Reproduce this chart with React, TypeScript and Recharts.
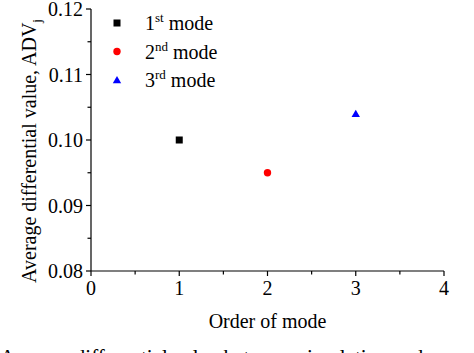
import React from "react";
import { ScatterChart, Scatter, XAxis, YAxis } from "recharts";

const FONT = "Liberation Serif";

const mode1 = [{ x: 1, y: 0.1 }];
const mode2 = [{ x: 2, y: 0.095 }];
const mode3 = [{ x: 3, y: 0.104 }];

const xTicks = [0, 0.5, 1, 1.5, 2, 2.5, 3, 3.5, 4];
const yTicks = [0.08, 0.085, 0.09, 0.095, 0.1, 0.105, 0.11, 0.115, 0.12];

const legendItems = [
  { num: "1", sup: "st", color: "#000000", shape: "square" },
  { num: "2", sup: "nd", color: "#ff0000", shape: "circle" },
  { num: "3", sup: "rd", color: "#0000ff", shape: "triangle" },
];

const TICK_MARGIN_X = 10;
const TICK_MARGIN_Y = 8;
const txt = { fontFamily: FONT, fontSize: 20, fill: "#000" };

function Marker({ cx, cy, shape, color }: any) {
  if (shape === "square") return <rect x={cx - 3.5} y={cy - 3.5} width={7} height={7} fill={color} />;
  if (shape === "circle") return <circle cx={cx} cy={cy} r={3.7} fill={color} />;
  return <polygon points={`${cx},${cy - 4} ${cx - 4.2},${cy + 3.2} ${cx + 4.2},${cy + 3.2}`} fill={color} />;
}

function XTick(props: any) {
  const { x, y, payload } = props;
  const v = payload.value;
  const major = Math.abs(v - Math.round(v)) < 1e-6;
  const axisY = y - TICK_MARGIN_X;
  return (
    <g>
      <line x1={x} x2={x} y1={axisY} y2={axisY + (major ? 5 : 3.5)} stroke="#000" strokeWidth={1.2} />
      {major && (
        <text x={x} y={y + 14} textAnchor="middle" style={txt}>
          {String(v)}
        </text>
      )}
    </g>
  );
}

function YTick(props: any) {
  const { x, y, payload } = props;
  const v = payload.value;
  const major = Math.abs(v * 100 - Math.round(v * 100)) < 1e-6;
  const axisX = x + TICK_MARGIN_Y;
  return (
    <g>
      <line x1={axisX} x2={axisX - (major ? 5 : 3.5)} y1={y} y2={y} stroke="#000" strokeWidth={1.2} />
      {major && (
        <text x={x} y={y + 7} textAnchor="end" style={txt}>
          {v.toFixed(2)}
        </text>
      )}
    </g>
  );
}

function LegendAndLabel() {
  return (
    <g>
      <text x={36} y={151} transform="rotate(-90 36 151)" textAnchor="middle" style={txt}>
        Average differential value, ADV
        <tspan style={{ fontSize: 13 }} dy={5}>j</tspan>
      </text>
      {legendItems.map((it, i) => {
        const cy = 23 + i * 28.5;
        return (
          <g key={it.num}>
            <Marker cx={117} cy={cy} shape={it.shape} color={it.color} />
            <text x={145} y={cy + 7} style={txt}>
              {it.num}
              <tspan style={{ fontSize: 13 }} dy={-8}>{it.sup}</tspan>
              <tspan dy={8}> mode</tspan>
            </text>
          </g>
        );
      })}
    </g>
  );
}

export default function App() {
  return (
    <div style={{ position: "absolute", left: 0, top: 0, width: 474, height: 353, overflow: "hidden", background: "#fff" }}>
      <ScatterChart width={474} height={353} margin={{ top: 9, right: 30, bottom: 0, left: 0 }}>
        <XAxis
          type="number"
          dataKey="x"
          domain={[0, 4]}
          ticks={xTicks}
          interval={0}
          height={82}
          tickSize={0}
          tickMargin={TICK_MARGIN_X}
          tickLine={false}
          axisLine={{ stroke: "#000", strokeWidth: 1.2 }}
          tick={<XTick />}
          label={() => (
            <g>
              <text x={267.5} y={328} textAnchor="middle" style={txt}>
                Order of mode
              </text>
              <text x={0} y={364} style={{ ...txt, fontSize: 21 }}>
                Average differential value between simulation and experiment
              </text>
            </g>
          )}
        />
        <YAxis
          type="number"
          dataKey="y"
          domain={[0.08, 0.12]}
          ticks={yTicks}
          interval={0}
          width={91}
          tickSize={0}
          tickMargin={TICK_MARGIN_Y}
          tickLine={false}
          axisLine={{ stroke: "#000", strokeWidth: 1.2 }}
          tick={<YTick />}
          label={() => <LegendAndLabel />}
        />
        <Scatter data={mode1} isAnimationActive={false} shape={(p: any) => <Marker cx={p.cx} cy={p.cy} shape="square" color="#000000" />} />
        <Scatter data={mode2} isAnimationActive={false} shape={(p: any) => <Marker cx={p.cx} cy={p.cy} shape="circle" color="#ff0000" />} />
        <Scatter data={mode3} isAnimationActive={false} shape={(p: any) => <Marker cx={p.cx} cy={p.cy} shape="triangle" color="#0000ff" />} />
      </ScatterChart>
    </div>
  );
}
